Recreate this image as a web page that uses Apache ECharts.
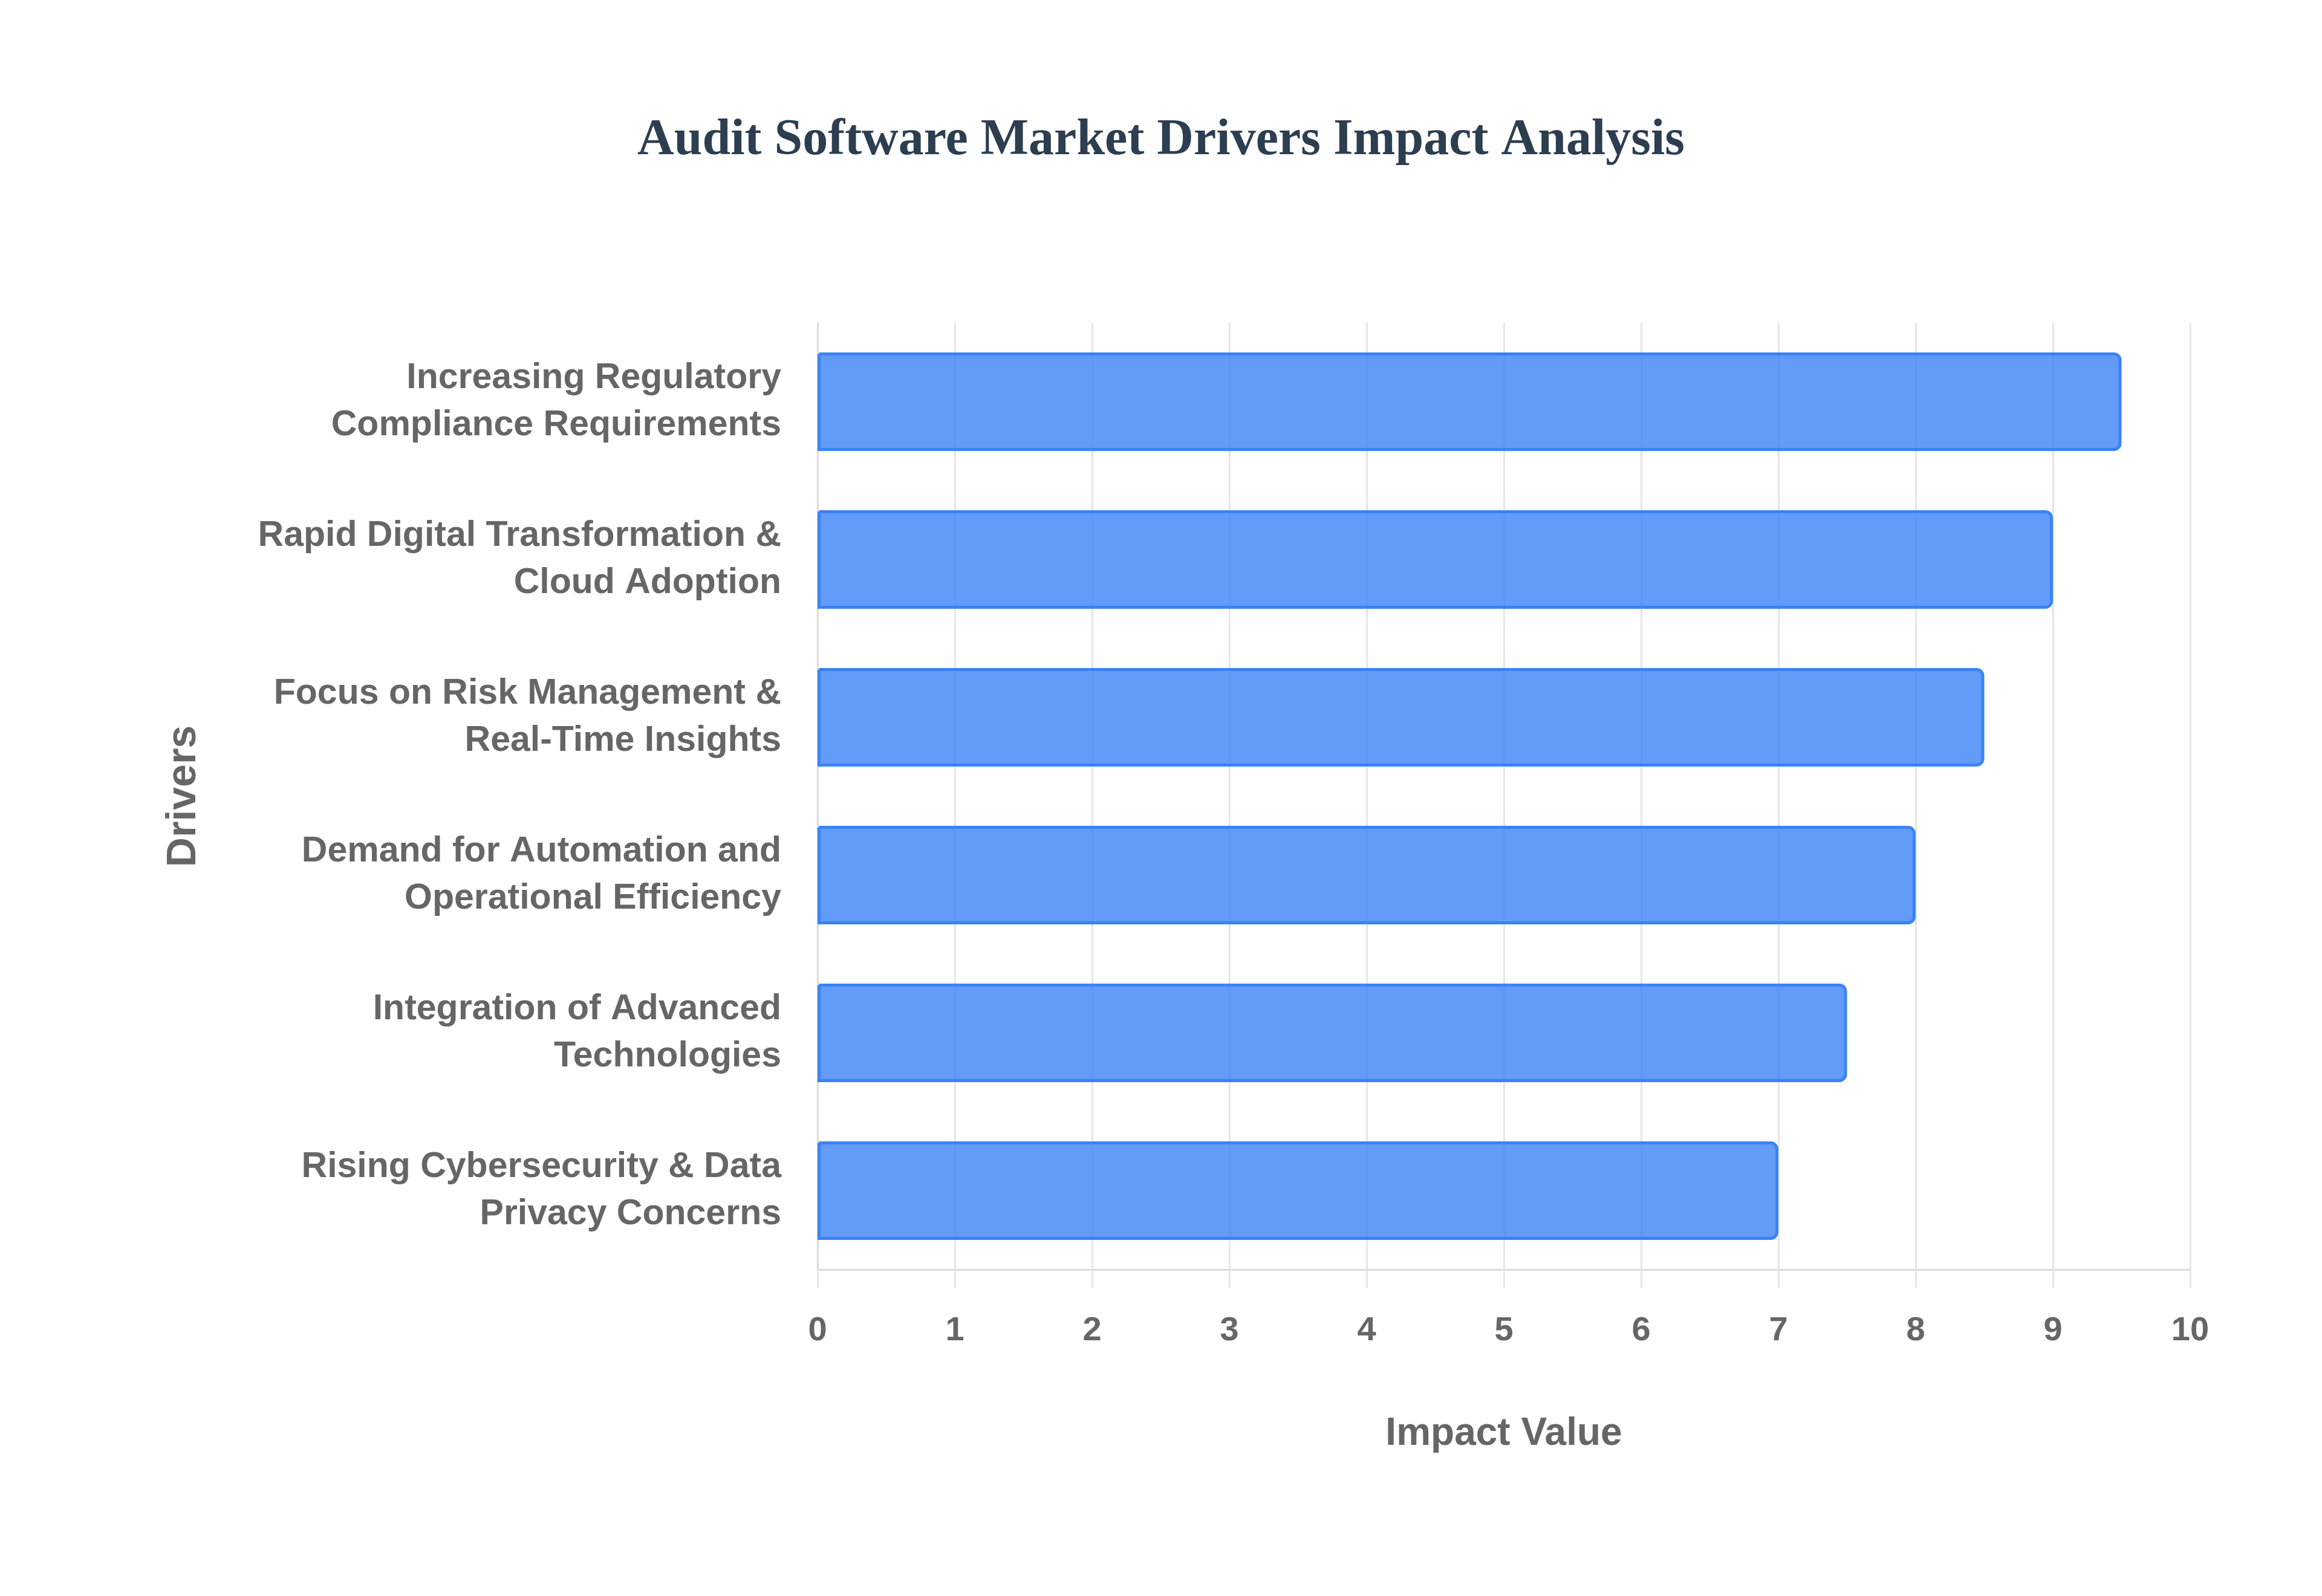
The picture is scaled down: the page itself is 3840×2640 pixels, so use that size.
<!DOCTYPE html>
<html>
<head>
<meta charset="utf-8">
<script src="https://cdn.jsdelivr.net/npm/echarts@6/dist/echarts.min.js"></script>
<style>
html,body{margin:0;padding:0;background:#fff;}
#chart{width:3840px;height:2640px;}
</style>
</head>
<body>
<div id="chart"></div>
<script>
const titleText = 'Audit Software Market Drivers Impact Analysis';
const categories = [
  'Increasing Regulatory\nCompliance Requirements',
  'Rapid Digital Transformation &\nCloud Adoption',
  'Focus on Risk Management &\nReal-Time Insights',
  'Demand for Automation and\nOperational Efficiency',
  'Integration of Advanced\nTechnologies',
  'Rising Cybersecurity & Data\nPrivacy Concerns'
];
const impactValues = [9.5, 9.0, 8.5, 8.0, 7.5, 7.0];
const xAxisName = 'Impact Value';
const yAxisName = 'Drivers';

const chart = echarts.init(document.getElementById('chart'));
const sans = '"Liberation Sans", Arial, Helvetica, sans-serif';
chart.setOption({
  backgroundColor: '#ffffff',
  animation: false,
  title: {
    text: titleText,
    left: 'center',
    top: 186,
    textStyle: {
      fontFamily: '"Liberation Serif", "Times New Roman", serif',
      fontWeight: 'bold',
      fontSize: 84,
      color: '#2c3e50'
    }
  },
  grid: { left: 1352, right: 218, top: 534, bottom: 540, containLabel: false },
  xAxis: {
    type: 'value',
    min: 0,
    max: 10,
    interval: 1,
    name: xAxisName,
    nameLocation: 'middle',
    nameGap: 240,
    nameTextStyle: { fontFamily: sans, fontWeight: 'bold', fontSize: 64, color: '#666666' },
    axisLine: { show: true, lineStyle: { color: '#dcdcdc', width: 3 } },
    axisTick: { show: true, length: 30, lineStyle: { color: '#e6e6e6', width: 3 } },
    axisLabel: { margin: 74, fontFamily: sans, fontWeight: 'bold', fontSize: 56, color: '#666666' },
    splitLine: { show: true, lineStyle: { color: '#e6e6e6', width: 3 } }
  },
  yAxis: {
    type: 'category',
    data: categories,
    inverse: true,
    name: yAxisName,
    nameLocation: 'middle',
    nameGap: 1014,
    nameRotate: 90,
    nameTextStyle: { fontFamily: sans, fontWeight: 'bold', fontSize: 68, color: '#666666' },
    axisLine: { show: true, lineStyle: { color: '#dcdcdc', width: 3 } },
    axisTick: { show: false },
    axisLabel: { margin: 60, fontFamily: sans, fontWeight: 'bold', fontSize: 59, lineHeight: 78, color: '#666666', align: 'right' },
    splitLine: { show: false }
  },
  series: [{
    type: 'bar',
    data: impactValues,
    barWidth: 163,
    itemStyle: {
      color: 'rgba(59,130,246,0.8)',
      borderColor: '#3b82f6',
      borderWidth: 5,
      borderRadius: [0, 10, 10, 0]
    }
  }]
});
</script>
</body>
</html>
